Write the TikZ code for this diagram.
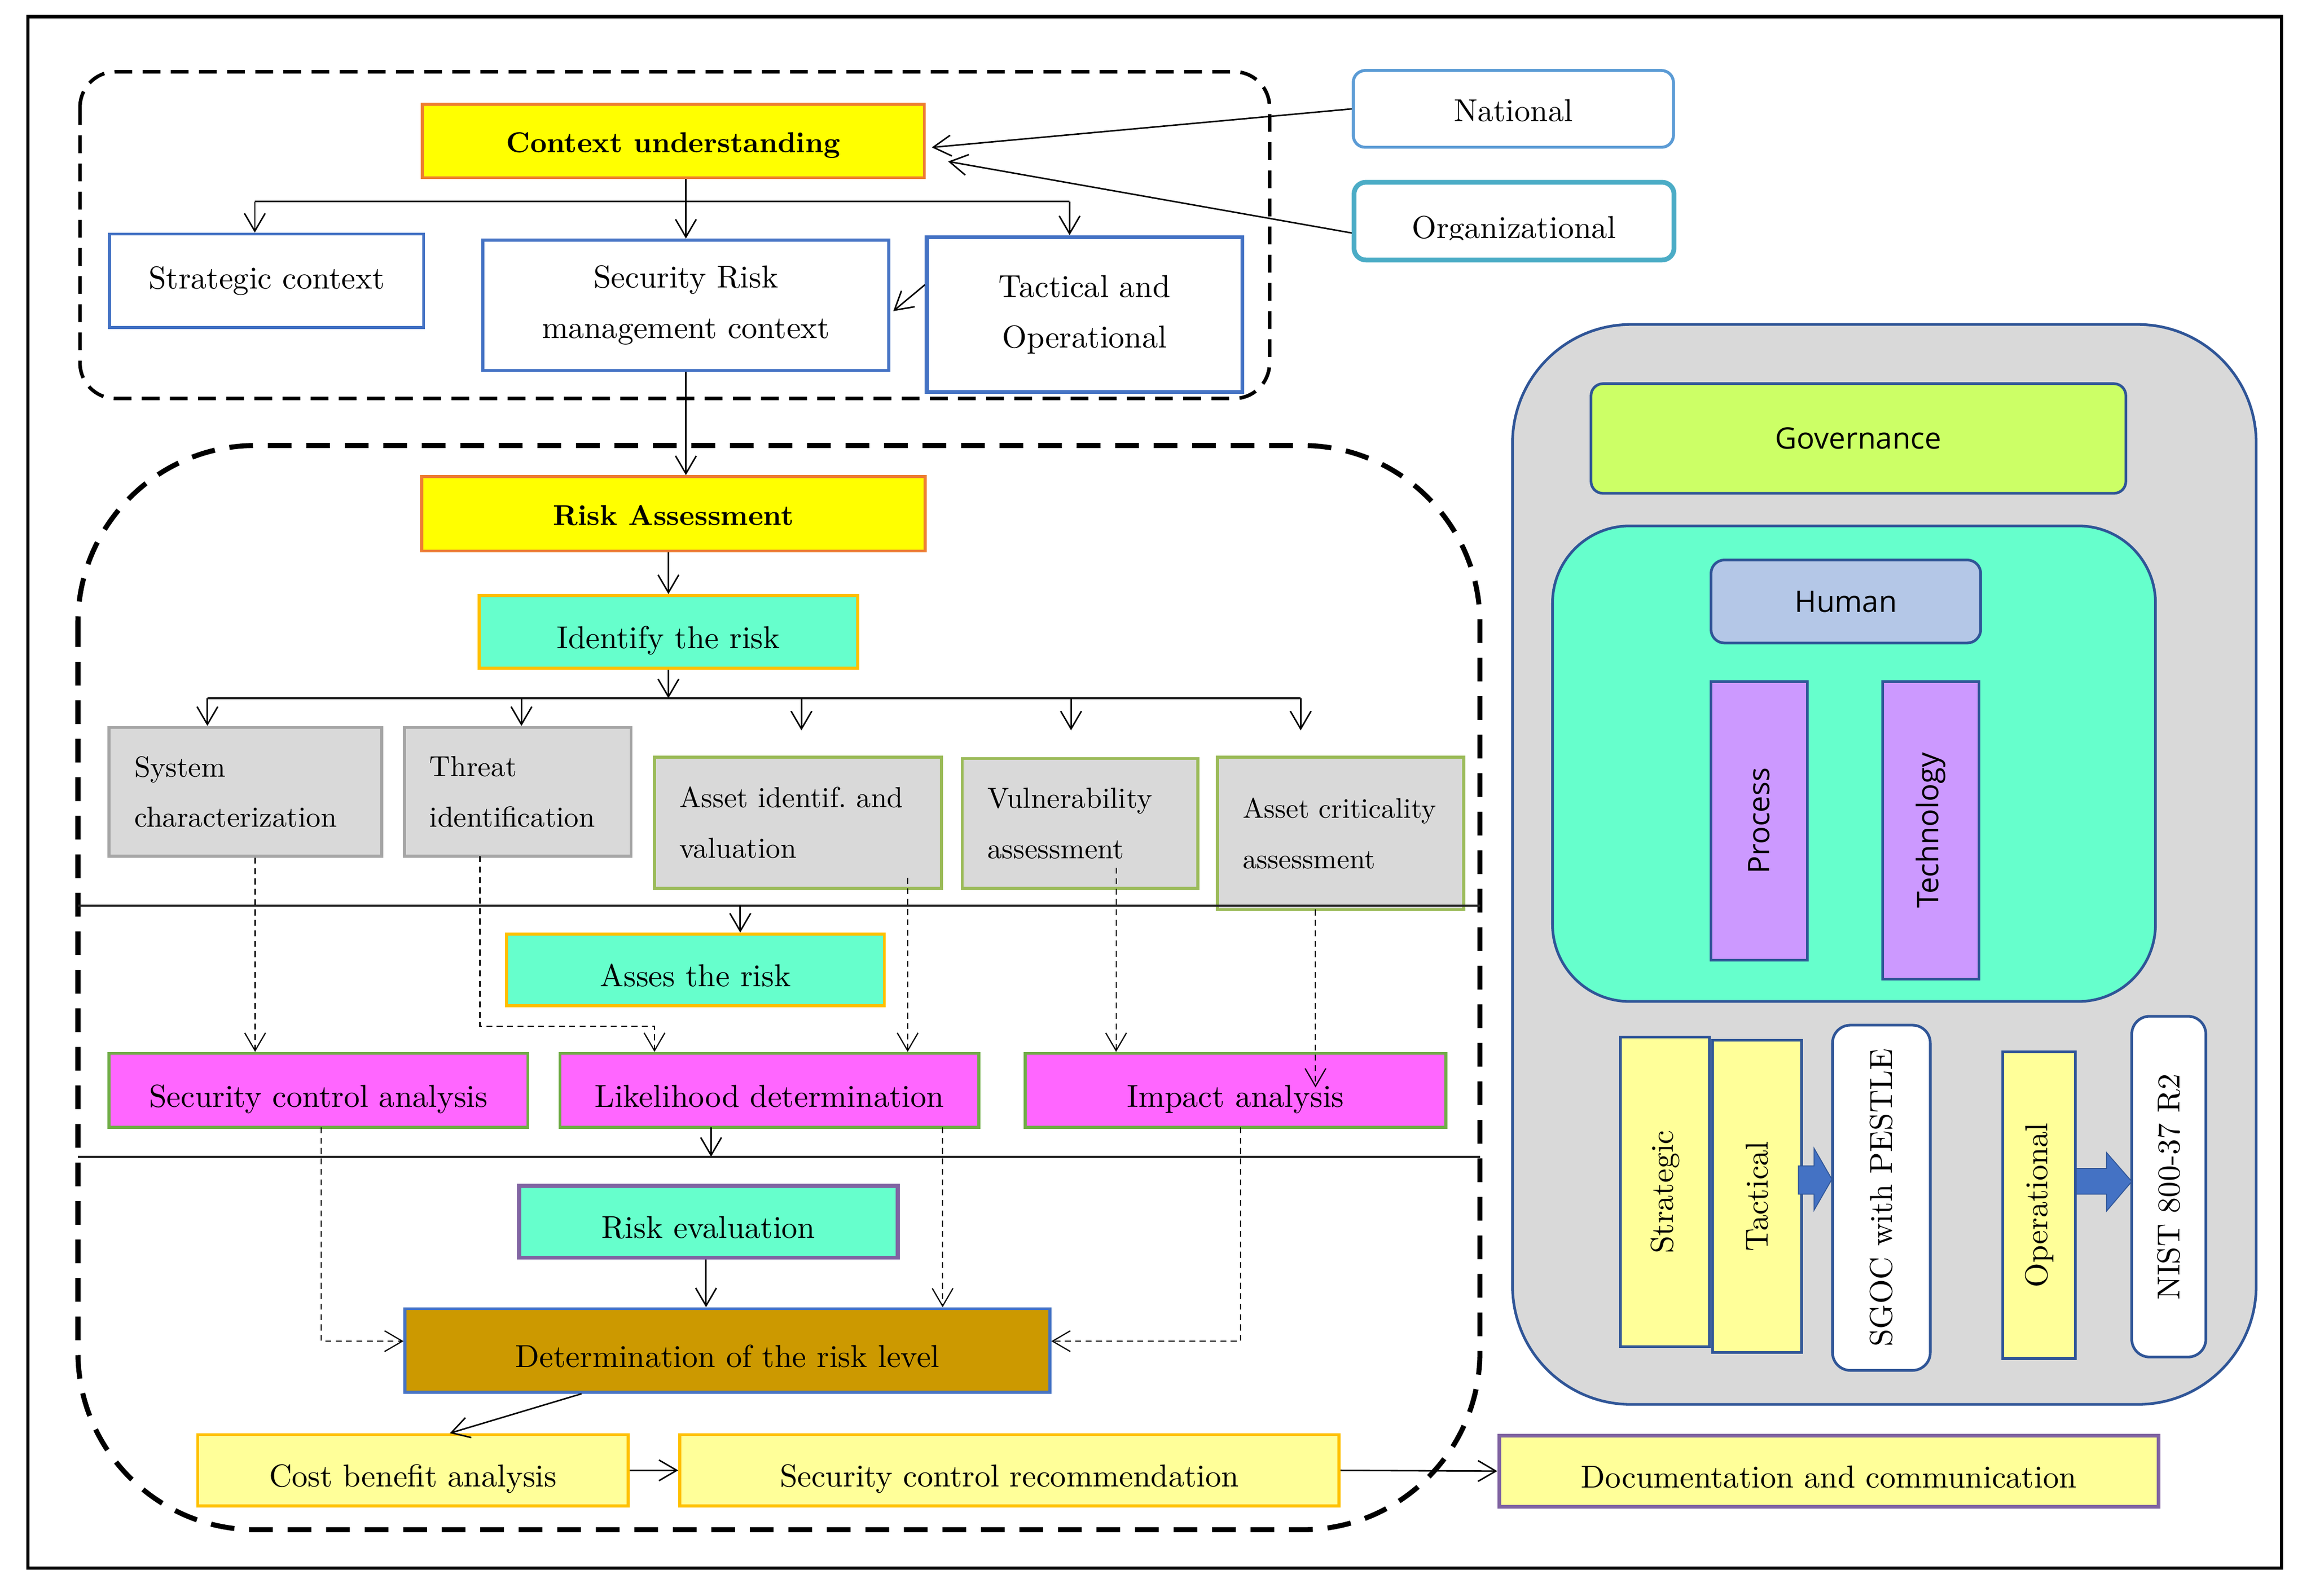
\documentclass[tikz,border=0pt]{standalone}
\usepackage{fontspec}
\newfontfamily\osans{Open Sans}
\usetikzlibrary{arrows.meta,calc}
\definecolor{cYellow}{HTML}{FFFF00}
\definecolor{cOrange}{HTML}{ED7D31}
\definecolor{cBlue}{HTML}{4472C4}
\definecolor{cNat}{HTML}{5B9BD5}
\definecolor{cOrg}{HTML}{4BACC6}
\definecolor{cGrey}{HTML}{D9D9D9}
\definecolor{cGreyB}{HTML}{A5A5A5}
\definecolor{cGreenB}{HTML}{9BBB59}
\definecolor{cAqua}{HTML}{66FFCC}
\definecolor{cGold}{HTML}{FFC000}
\definecolor{cMag}{HTML}{FF66FF}
\definecolor{cGreenM}{HTML}{70AD47}
\definecolor{cPurple}{HTML}{8064A2}
\definecolor{cDet}{HTML}{CC9900}
\definecolor{cLY}{HTML}{FFFF99}
\definecolor{cDB}{HTML}{2F5597}
\definecolor{cGov}{HTML}{CCFF66}
\definecolor{cHum}{HTML}{B4C7E7}
\definecolor{cPur}{HTML}{CC99FF}
\newcommand\bx[7]{\node[#6, minimum width={(#4-#2)*0.5pt}, minimum height={(#5-#3)*0.5pt}] (#1) at ({(#2+#4)/2},{(#3+#5)/2}) {#7};}
\tikzset{
  every node/.style={inner sep=0pt, font=\fontsize{10.7}{17}\selectfont},
  box/.style={draw, line width=1pt, rectangle},
  lowtext/.style={text height=11.2pt, text depth=0pt},
  ctxbox/.style={box, fill=cYellow, draw=cOrange, font=\bfseries\fontsize{9.7}{12}\selectfont, text height=7.8pt, text depth=0pt},
  bluebox/.style={box, draw=cBlue, fill=white, align=center},
  greybox/.style={box, fill=cGrey, draw=cGreyB, align=left, font=\fontsize{9.8}{17}\selectfont},
  greenbox/.style={greybox, draw=cGreenB},
  aquabox/.style={box, fill=cAqua, draw=cGold, lowtext},
  magbox/.style={box, fill=cMag, draw=cGreenM, lowtext},
  lybox/.style={box, fill=cLY, draw=cGold, lowtext},
  rbox/.style={draw=cDB, line width=0.9pt, rectangle},
  rsans/.style={font=\osans\fontsize{10}{12}\selectfont},
  arr/.style={line width=0.5pt, -{Straight Barb[length=6pt,width=7pt]}},
  dconn/.style={arr, line width=0.4pt, dash pattern=on 2pt off 1.5pt},
  sepline/.style={line width=0.8pt, black!85},
}
\begin{document}
\begin{tikzpicture}[x=0.5pt,y=-0.5pt]
\useasboundingbox (0,0) rectangle (1560,1077.3);
% outer frame
\draw[line width=1.1pt] (18.7,11.2) rectangle (1540,1058.5);
% dashed groups
\draw[line width=1.2pt, dash pattern=on 6pt off 3.5pt, rounded corners=12pt] (54,48.4) rectangle (857,269);
\draw[line width=1.7pt, dash pattern=on 8pt off 5pt, rounded corners=60pt] (52.6,300.7) rectangle (999,1032.6);

% context section
\bx{ctx}{285}{70.4}{624}{120}{ctxbox}{Context understanding}
\bx{nat}{913.5}{47.6}{1129.6}{99.4}{box, draw=cNat, fill=white, rounded corners=4pt, text height=8.5pt, text depth=0pt}{National}
\bx{org}{914}{123}{1130}{175.5}{box, draw=cOrg, line width=1.6pt, fill=white, rounded corners=4pt}{}
\begin{scope}
\clip (914,123) rectangle (1130,162);
\node[anchor=base] (orgt) at (1022,161) {Organizational};
\end{scope}
\bx{strat}{74}{158}{286}{221}{bluebox}{Strategic context}
\bx{sec}{326}{162}{600}{250}{bluebox}{Security Risk\\management context}
\bx{tact}{625.6}{160}{838.6}{264.5}{bluebox, line width=1.3pt}{Tactical and\\Operational}

% risk assessment
\bx{ra}{284.6}{321.7}{624.5}{372}{ctxbox}{Risk Assessment}
\bx{idr}{323.4}{402}{579}{451}{aquabox}{Identify the risk}
\bx{sys}{73.6}{491}{257.7}{578}{greybox, text width=75pt}{System\\characterization}
\bx{thr}{273}{491}{426}{578}{greybox, text width=59.5pt}{Threat\\identification}
\bx{aid}{441.8}{511}{635.6}{599.6}{greenbox, text width=80pt}{Asset identif.\ and\\valuation}
\bx{vul}{649.5}{512}{808.6}{599.6}{greenbox, text width=62.5pt}{Vulnerability\\assessment}
\bx{crit}{821.7}{511}{988}{614}{greenbox, text width=66pt, font=\fontsize{9.5}{17}\selectfont}{\mbox{Asset criticality}\\assessment}
\bx{ass}{341.9}{630.5}{596.9}{678.8}{aquabox}{Asses the risk}
\bx{sca}{73.6}{711}{356.3}{761}{magbox}{Security control analysis}
\bx{lik}{378}{711}{660.7}{761}{magbox}{Likelihood determination}
\bx{imp}{692}{711}{976}{761}{magbox}{Impact analysis}
\bx{rev}{350.4}{800.4}{606}{849}{box, fill=cAqua, draw=cPurple, line width=1.3pt, lowtext}{Risk evaluation}
\bx{det}{273.4}{883.4}{708.7}{939.8}{box, fill=cDet, draw=cBlue, lowtext}{Determination of the risk level}
\bx{cost}{133.4}{968.4}{424}{1016.6}{lybox}{Cost benefit analysis}
\bx{scr}{458.8}{968.4}{903.9}{1016.6}{lybox}{Security control recommendation}
\bx{doc}{1012}{969}{1457}{1017}{box, fill=cLY, draw=cPurple, line width=1.3pt, lowtext}{Documentation and communication}

% right panel
\bx{panel}{1021}{219}{1523}{948}{rbox, fill=cGrey, rounded corners=40pt}{}
\bx{gov}{1074}{259}{1435}{333}{rbox, fill=cGov, rounded corners=4pt, rsans}{Governance}
\bx{inner}{1048}{355}{1455}{676}{rbox, fill=cAqua, rounded corners=26pt}{}
\bx{hum}{1155}{378}{1337}{434}{rbox, fill=cHum, rounded corners=4.5pt, rsans}{Human}
\bx{proc}{1155}{460}{1220}{648}{rbox, fill=cPur, rsans}{\rotatebox{90}{Process}}
\bx{tech}{1271}{460}{1336}{661}{rbox, fill=cPur, rsans}{\rotatebox{90}{Technology}}
\bx{stg}{1094}{700}{1154}{909}{rbox, fill=cLY}{\rotatebox{90}{Strategic}}
\bx{tac}{1156}{702}{1216}{913}{rbox, fill=cLY}{\rotatebox{90}{Tactical}}
\bx{sgoc}{1237}{692}{1303}{925}{rbox, fill=white, rounded corners=6pt}{\rotatebox{90}{SGOC with PESTLE}}
\bx{opr}{1352}{710}{1401}{917}{rbox, fill=cLY}{\rotatebox{90}{Operational}}
\bx{nist}{1439}{686}{1489}{916}{rbox, fill=white, rounded corners=6pt}{\rotatebox{90}{NIST 800-37 R2}}
% block arrows
\filldraw[fill=cBlue, draw=cDB, line width=0.3pt] (1214,787) -- (1224.5,787) -- (1224.5,775) -- (1236.6,796) -- (1224.5,817) -- (1224.5,806) -- (1214,806) -- cycle;
\filldraw[fill=cBlue, draw=cDB, line width=0.3pt] (1401.5,788.7) -- (1422,788.7) -- (1422,778) -- (1439,797.5) -- (1422,817.5) -- (1422,806) -- (1401.5,806) -- cycle;

% ---- connectors: context
\draw[arr] (nat.west) -- ($(ctx.east)+(4,4.3)$);
\draw[arr] ($(org.west)+(0,8)$) -- ($(ctx.east)+(15,13.8)$);
\coordinate (tl) at (172,136);
\coordinate (tr) at (722,136);
\draw[line width=0.5pt] (tl) -- (tr);
\draw[arr] (ctx.south -| sec.north) -- (sec.north);
\draw[arr] (tl) -- (tl |- strat.north);
\draw[arr] (tr) -- (tr |- tact.north);
\draw[arr] ($(tact.west)+(0,-20)$) -- ($(sec.east)+(2,4)$);
\draw[arr] (sec.south) -- (sec.south |- ra.north);
\draw[arr] (ra.south -| idr.north) -- (idr.north);

% ---- identify tree
\coordinate (h1) at (140,471.3);
\coordinate (h2) at (878,471.3);
\coordinate (h3) at (352,471.3);
\coordinate (h4) at (541,471.3);
\coordinate (h5) at (723,471.3);
\coordinate (e4) at (541,493);
\coordinate (e5) at (723,493);
\coordinate (e6) at (878,493);
\draw[sepline, line width=0.7pt] (h1) -- (h2);
\draw[arr] (idr.south) -- (idr.south |- h1);
\draw[arr] (h1) -- (h1 |- sys.north);
\draw[arr] (h3) -- (h3 |- thr.north);
\draw[arr] (h4) -- (e4);
\draw[arr] (h5) -- (e5);
\draw[arr] (h2) -- (e6);

% ---- separators
\coordinate (s1a) at (52.6,611.4);
\coordinate (s1b) at (999,611.4);
\coordinate (s2a) at (52.6,780.8);
\coordinate (s2b) at (999,780.8);
\draw[sepline] (s1a) -- (s1b);
\draw[sepline] (s2a) -- (s2b);
\coordinate (s1x) at (499.7,611.4);
\draw[arr] (s1x) -- (s1x |- ass.north);

% ---- dashed feeds
\coordinate (d1) at (172.2,0);
\draw[dconn] (sys.south -| d1) -- (sca.north -| d1);
\coordinate (d2a) at (324,578);
\coordinate (d2b) at (324,692.7);
\coordinate (d2c) at (441.8,692.7);
\draw[dconn] (d2a) -- (d2b) -- (d2c) -- (d2c |- lik.north);
\coordinate (d3) at (612.7,592.6);
\draw[dconn] (d3) -- (d3 |- lik.north);
\coordinate (d4) at (753.4,585.8);
\draw[dconn] (d4) -- (d4 |- imp.north);
\coordinate (d5a) at (888,614);
\coordinate (d5b) at (888,734);
\draw[dconn] (d5a) -- (d5b);

\coordinate (k1) at (480,761);
\draw[arr] (k1) -- (k1 |- s2a);

\coordinate (q1) at (216.9,761);
\coordinate (q2) at (216.9,905.3);
\draw[dconn] (q1) -- (q2) -- (q2 -| det.west);
\coordinate (q3) at (636.3,761);
\draw[dconn] (q3) -- (q3 |- det.north);
\coordinate (q4) at (837.5,761);
\coordinate (q5) at (837.5,905.3);
\draw[dconn] (q4) -- (q5) -- (q5 -| det.east);

\draw[arr] (rev.south -| 476.6,0) -- (det.north -| 476.6,0);
\draw[arr] ($(det.south)+(-98.5,0)$) -- ($(cost.north)+(25,0)$);
\draw[arr] (cost.east) -- (scr.west);
\draw[arr] (scr.east) -- (doc.west);
\end{tikzpicture}
\end{document}
